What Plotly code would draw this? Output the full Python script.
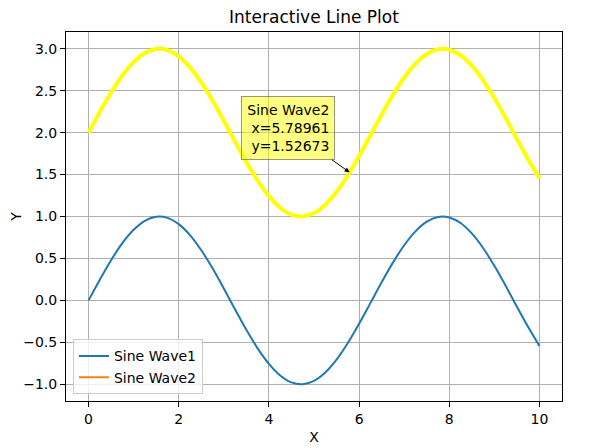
import plotly.graph_objects as go

# x sample positions (0 .. 10, step 0.25)
x_vals = [0.0, 0.25, 0.5, 0.75, 1.0, 1.25, 1.5, 1.75, 2.0, 2.25,
          2.5, 2.75, 3.0, 3.25, 3.5, 3.75, 4.0, 4.25, 4.5, 4.75,
          5.0, 5.25, 5.5, 5.75, 6.0, 6.25, 6.5, 6.75, 7.0, 7.25,
          7.5, 7.75, 8.0, 8.25, 8.5, 8.75, 9.0, 9.25, 9.5, 9.75, 10.0]

wave1 = [0.0, 0.247, 0.479, 0.682, 0.841, 0.949, 0.997, 0.984, 0.909, 0.778,
         0.598, 0.382, 0.141, -0.108, -0.351, -0.572, -0.757, -0.895, -0.978, -0.999,
         -0.959, -0.859, -0.706, -0.508, -0.279, -0.033, 0.215, 0.450, 0.657, 0.823,
         0.938, 0.995, 0.989, 0.923, 0.798, 0.624, 0.412, 0.174, -0.075, -0.319, -0.544]

wave2 = [2.0, 2.247, 2.479, 2.682, 2.841, 2.949, 2.997, 2.984, 2.909, 2.778,
         2.598, 2.382, 2.141, 1.892, 1.649, 1.428, 1.243, 1.105, 1.022, 1.001,
         1.041, 1.141, 1.294, 1.492, 1.721, 1.967, 2.215, 2.450, 2.657, 2.823,
         2.938, 2.995, 2.989, 2.923, 2.798, 2.624, 2.412, 2.174, 1.925, 1.681, 1.456]

# hover point shown in the callout
pick_x = 5.78961
pick_y = 1.52673

y_ticks = [-1.0, -0.5, 0.0, 0.5, 1.0, 1.5, 2.0, 2.5, 3.0]
x_ticks = [0, 2, 4, 6, 8, 10]

FONT = 'DejaVu Sans'

fig = go.Figure()
fig.add_trace(go.Scatter(x=x_vals, y=wave1, mode='lines', name='Sine Wave1',
                         line=dict(color='#1f77b4', width=2, shape='spline')))
fig.add_trace(go.Scatter(x=x_vals, y=wave2, mode='lines', name='Sine Wave2',
                         line=dict(color='yellow', width=4, shape='spline'),
                         showlegend=False))
# legend entry keeps the default orange
fig.add_trace(go.Scatter(x=[None], y=[None], mode='lines', name='Sine Wave2',
                         line=dict(color='#ff7f0e', width=2)))

fig.add_annotation(
    x=pick_x, y=pick_y, xref='x', yref='y',
    text=f'Sine Wave2<br> x={pick_x}<br> y={pick_y}',
    align='right', showarrow=True, arrowhead=2, arrowsize=1, arrowwidth=1,
    arrowcolor='black', ax=-62, ay=-44,
    bgcolor='rgba(255,255,0,0.5)', bordercolor='rgba(80,80,80,0.6)',
    borderwidth=1, borderpad=5,
    font=dict(family=FONT, size=14, color='black'),
)

# page body has an 8px margin, so the figure is a bit smaller than the window
fig.update_layout(
    width=591, height=440,
    margin=dict(l=58, r=37, t=24, b=47),
    paper_bgcolor='white', plot_bgcolor='white',
    font=dict(family=FONT, size=14, color='black'),
    title=dict(text='Interactive Line Plot', xref='paper', x=0.5, xanchor='center',
               y=0.98, yanchor='middle', font=dict(size=17)),
    legend=dict(x=0.014, y=0.018, xanchor='left', yanchor='bottom',
                bgcolor='rgba(255,255,255,0.8)', bordercolor='#cccccc',
                borderwidth=1, font=dict(size=14), tracegroupgap=0),
    showlegend=True,
)

fig.update_xaxes(range=[-0.5, 10.5], tickvals=x_ticks, automargin=False,
                 title=dict(text='X', standoff=6, font=dict(size=14)),
                 tickfont=dict(size=14),
                 showgrid=True, gridcolor='#b0b0b0', gridwidth=1,
                 showline=True, linecolor='black', linewidth=1, mirror=True,
                 ticks='outside', ticklen=5, tickcolor='black', zeroline=False)
fig.update_yaxes(range=[-1.2, 3.2], tickvals=y_ticks, tickformat='.1f', automargin=False,
                 title=dict(text='Y', standoff=8, font=dict(size=14)),
                 tickfont=dict(size=14),
                 showgrid=True, gridcolor='#b0b0b0', gridwidth=1,
                 showline=True, linecolor='black', linewidth=1, mirror=True,
                 ticks='outside', ticklen=5, tickcolor='black', zeroline=False)

fig.write_html('out.html')
